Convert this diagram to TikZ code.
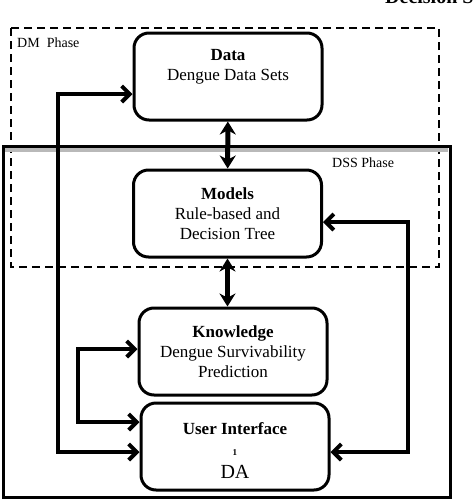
\documentclass[tikz,border=0pt]{standalone}
\usepackage{fontspec}
\setmainfont{Liberation Serif}
\usetikzlibrary{arrows.meta}

\begin{document}
\begin{tikzpicture}[x=1pt,y=-1pt,
	box/.style={shape=rectangle,draw=black,line width=3pt,rounded corners=15pt,minimum width=188pt,minimum height=87pt,inner sep=0pt},
	boxtext/.style={align=center,inner sep=0pt,font=\fontsize{17}{20}\selectfont},
	link/.style={line width=4pt,{Straight Barb[length=8pt,width=16pt]}-{Straight Barb[length=8pt,width=16pt]}},
	twoway/.style={line width=5pt,{Stealth[length=13pt,width=16pt]}-{Stealth[length=13pt,width=16pt]}},
	phase/.style={anchor=west,inner sep=0pt,font=\fontsize{14}{16}\selectfont}]
	\useasboundingbox (0,0) rectangle (474,499);
	\node[anchor=base west,inner sep=0pt,font=\fontsize{20}{22}\selectfont\bfseries] (title) at (385,3) {Decision S};
	\draw[line width=2.5pt,dash pattern=on 8pt off 5pt] (11,28) rectangle (439,267);
	\draw[gray!55,line width=4pt] (5,150) -- (448,150);
	\draw[line width=3pt] (3,146) rectangle (450,497);
	\node[phase] (dm) at (17,43) {DM\ \ Phase};
	\node[phase] (dss) at (332,163) {DSS Phase};
	\node[box] (data) at (228,76.5) {};
	\node[boxtext] (datatext) at (228,67) {\textbf{Data}\\Dengue Data Sets};
	\node[box,boxtext] (models) at (227.5,213.5) {\textbf{Models}\\Rule-based and\\Decision Tree};
	\node[box,boxtext] (know) at (233,351.5) {\textbf{Knowledge}\\Dengue Survivability\\Prediction};
	\node[box] (ui) at (235,446.5) {};
	\node[boxtext] (uitext) at (235,450.5) {\textbf{User Interface}\\[1pt]{\fontsize{9}{10}\selectfont\textbf{1}}\\[3pt]{\fontsize{20}{22}\selectfont DA}};
	\coordinate (lt) at (58,94);
	\coordinate (lb) at (58,452);
	\coordinate (kl) at (78,349);
	\coordinate (ul) at (78,422);
	\coordinate (rt) at (408,222);
	\coordinate (rb) at (408,452);
	\path[twoway] (data) edge (models);
	\path[twoway] (models.south) edge (models.south |- know.north);
	\draw[link] (data.west |- lt) -- (lt) -- (lb) -- (ui.west |- lb);
	\draw[link] (know.west |- kl) -- (kl) -- (ul) -- (ui.west |- ul);
	\draw[link] (models.east |- rt) -- (rt) -- (rb) -- (ui.east |- rb);
\end{tikzpicture}
\end{document}
